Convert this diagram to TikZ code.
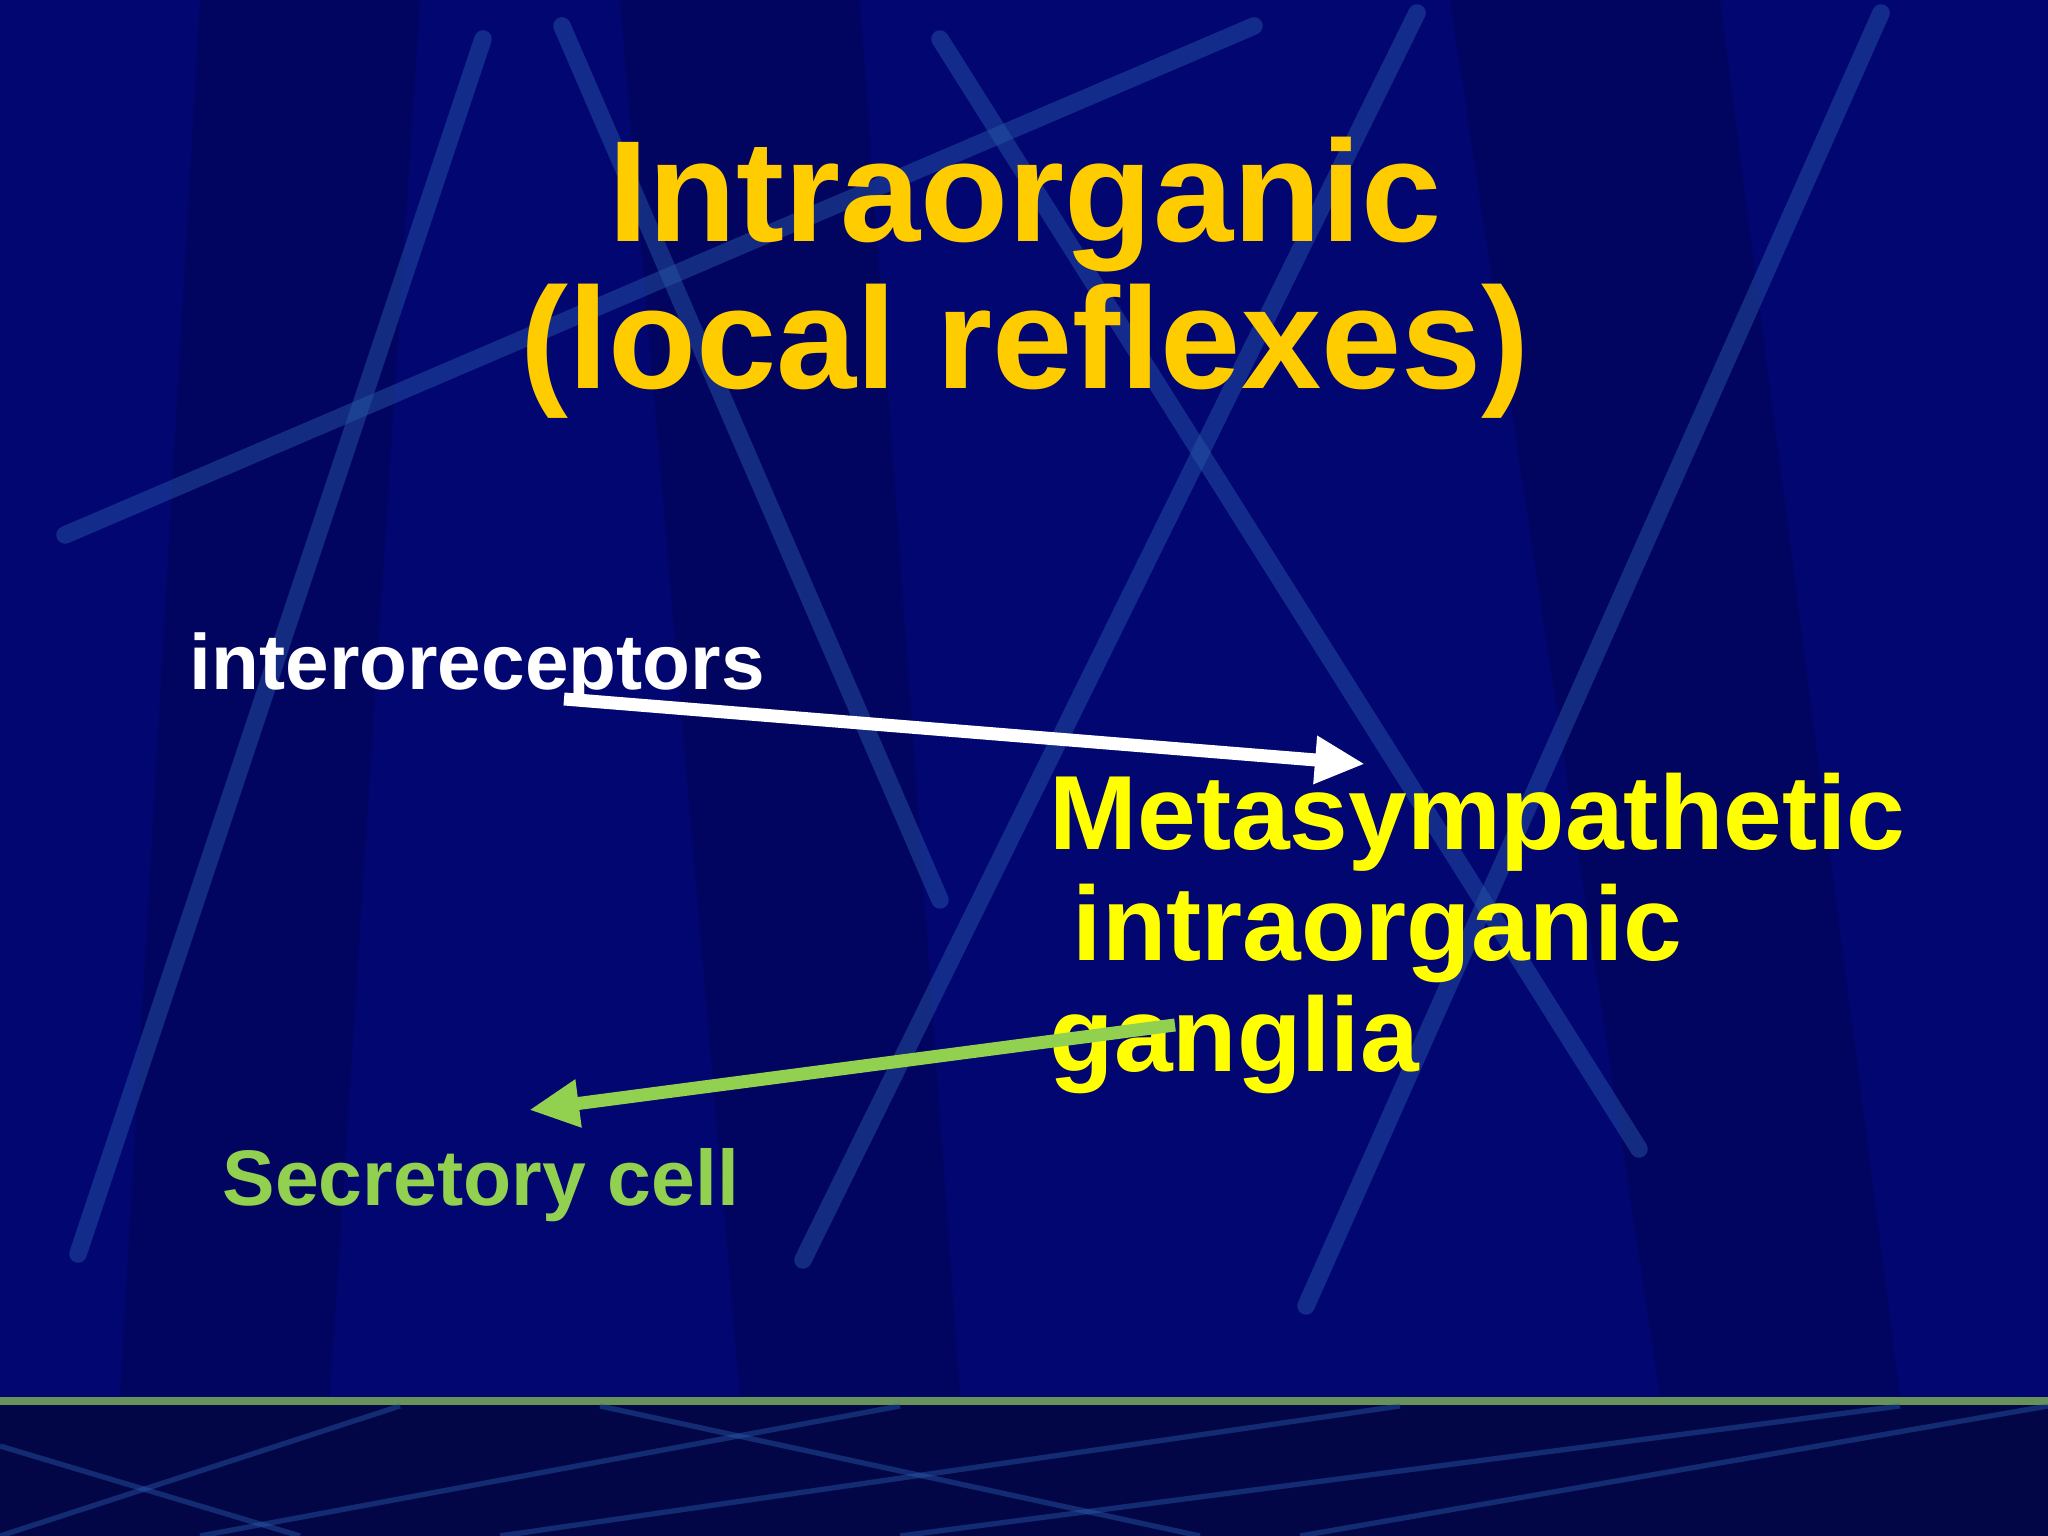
\documentclass[tikz,border=0pt]{standalone}
\usepackage{fontspec}
\setmainfont{Liberation Sans}
\usetikzlibrary{arrows.meta}
\definecolor{bg}{RGB}{2,6,112}
\definecolor{bgdark}{RGB}{3,5,80}
\definecolor{bgbottom}{RGB}{3,6,70}
\definecolor{streak}{RGB}{40,90,170}
\definecolor{gold}{RGB}{255,204,0}
\definecolor{yel}{RGB}{255,255,0}
\definecolor{lgreen}{RGB}{146,208,80}
\tikzset{
  bgline/.style={streak, line width=5pt, opacity=0.45, line cap=round},
  txt/.style={font=\bfseries, inner sep=0pt, anchor=base west},
  bigarrow/.style={line width=0.13cm, -{Triangle[length=0.5cm,width=0.45cm]}}
}
\begin{document}
\begin{tikzpicture}
\useasboundingbox (0,0) rectangle (20.48,15.36);
\fill[bg] (0,0) rectangle (20.48,15.36);
% darker bands
\fill[bgdark,opacity=0.5] (2.0,15.36) -- (4.2,15.36) -- (3.3,1.4) -- (1.2,1.4) -- cycle;
\fill[bgdark,opacity=0.5] (6.2,15.36) -- (8.6,15.36) -- (9.6,1.4) -- (7.4,1.4) -- cycle;
\fill[bgdark,opacity=0.5] (14.5,15.36) -- (17.2,15.36) -- (19.0,1.4) -- (16.6,1.4) -- cycle;
% streaks
\draw[bgline] (0.65,10.01) -- (12.54,15.10);
\draw[bgline] (4.83,14.97) -- (0.78,2.82);
\draw[bgline] (5.62,15.10) -- (9.40,6.36);
\draw[bgline] (9.40,14.97) -- (16.39,3.87);
\draw[bgline] (14.17,15.23) -- (8.03,2.76);
\draw[bgline] (18.81,15.23) -- (13.06,2.30);
% bottom
\fill[bgbottom] (0,0) rectangle (20.48,1.35);
\draw[lgreen!70!bg, line width=2.5pt] (0,1.35) -- (20.48,1.35);
\foreach \a/\b in {0/4, 2/9, 5/14, 9/19, 13/20.48}{
  \draw[streak,opacity=0.45,line width=1.5pt] (\a,0) -- (\b,1.3);
}
\draw[streak,opacity=0.45,line width=1.5pt] (3,0) -- (0,0.9);
\draw[streak,opacity=0.45,line width=1.5pt] (12,0) -- (6,1.3);
% title
\node[font=\bfseries\fontsize{41}{48}\selectfont, text=gold, inner sep=0pt, anchor=base] (title1) at (10.25,12.94) {Intraorganic};
\node[font=\bfseries\fontsize{41}{48}\selectfont, text=gold, inner sep=0pt, anchor=base] (title2) at (10.25,11.47) {(local reflexes)};
% labels
\node[txt, text=white, font=\bfseries\fontsize{22.3}{26}\selectfont] (intero) at (1.89,8.46) {interoreceptors};
\node[txt, text=yel, font=\bfseries\fontsize{30}{33}\selectfont] (meta) at (10.49,6.86) {Metasympathetic};
\node[txt, text=yel, font=\bfseries\fontsize{30}{33}\selectfont] (intra) at (10.72,5.75) {intraorganic};
\node[txt, text=yel, font=\bfseries\fontsize{30}{33}\selectfont] (gang) at (10.49,4.64) {ganglia};
\node[txt, text=lgreen, font=\bfseries\fontsize{22.4}{26}\selectfont] (secr) at (2.22,3.30) {Secretory cell};
% arrows
\coordinate (a1) at (5.64,8.37);
\coordinate (a2) at (13.65,7.72);
\coordinate (g1) at (11.75,5.11);
\coordinate (g2) at (5.29,4.26);
\draw[bigarrow, white] (a1) -- (a2);
\draw[bigarrow, lgreen] (g1) -- (g2);
\end{tikzpicture}
\end{document}
